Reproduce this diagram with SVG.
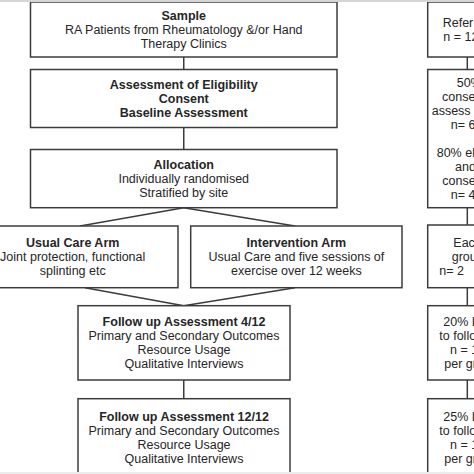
<svg xmlns="http://www.w3.org/2000/svg" width="474" height="474" viewBox="0 0 474 474">
<style>
rect.box{fill:#fff;stroke:#3c3c3c;stroke-width:1.5}
.c line{stroke:#3c3c3c;stroke-width:1.5}
text{font-family:"Liberation Sans",Arial,sans-serif;font-size:12.5px;fill:#262626}
.m{text-anchor:middle}
.b{font-weight:bold}
</style>
<rect width="474" height="474" fill="#fff"/>
<g class="c" id="connectors">
<line x1="183.75" y1="57" x2="183.75" y2="69.5"/>
<line x1="183.75" y1="127.5" x2="183.75" y2="149.5"/>
<line x1="183.75" y1="207.7" x2="80" y2="226"/>
<line x1="183.75" y1="207.7" x2="295" y2="226"/>
<line x1="85" y1="287.7" x2="183.75" y2="305.7"/>
<line x1="295" y1="287.7" x2="183.75" y2="305.7"/>
<line x1="183.75" y1="380" x2="183.75" y2="398.7"/>
<line x1="467.3" y1="57" x2="467.3" y2="69.5"/>
<line x1="467.3" y1="207.7" x2="467.3" y2="225"/>
<line x1="467.3" y1="287.7" x2="467.3" y2="305.7"/>
<line x1="467.3" y1="380" x2="467.3" y2="398.7"/>
</g>
<g id="sample">
<rect class="box" x="30.5" y="2" width="306.5" height="55"/>
<text class="m b" x="183.75" y="20">Sample</text>
<text class="m" x="183.75" y="34">RA Patients from Rheumatology &amp;/or Hand</text>
<text class="m" x="183.75" y="48">Therapy Clinics</text>
</g>
<g id="eligibility">
<rect class="box" x="30.5" y="69.5" width="306.5" height="58"/>
<text class="m b" x="183.75" y="89">Assessment of Eligibility</text>
<text class="m b" x="183.75" y="103">Consent</text>
<text class="m b" x="183.75" y="117">Baseline Assessment</text>
</g>
<g id="allocation">
<rect class="box" x="30.5" y="149.5" width="306.5" height="58.2"/>
<text class="m b" x="183.75" y="169.1">Allocation</text>
<text class="m" x="183.75" y="183.1">Individually randomised</text>
<text class="m" x="183.75" y="197.1">Stratified by site</text>
</g>
<g id="usual">
<rect class="box" x="-33" y="226" width="211" height="61.7"/>
<text class="m b" x="72.7" y="247.3">Usual Care Arm</text>
<text class="m" x="72.7" y="261.3">Joint protection, functional</text>
<text class="m" x="72.7" y="275.3">splinting etc</text>
</g>
<g id="intervention">
<rect class="box" x="190.7" y="226" width="211.3" height="61.7"/>
<text class="m b" x="296.4" y="247.3">Intervention Arm</text>
<text class="m" x="296.4" y="261.3">Usual Care and five sessions of</text>
<text class="m" x="296.4" y="275.3">exercise over 12 weeks</text>
</g>
<g id="followup4">
<rect class="box" x="78" y="305.7" width="212" height="74.3"/>
<text class="m b" x="184" y="326.3">Follow up Assessment 4/12</text>
<text class="m" x="184" y="340.3">Primary and Secondary Outcomes</text>
<text class="m" x="184" y="354.3">Resource Usage</text>
<text class="m" x="184" y="368.3">Qualitative Interviews</text>
</g>
<g id="followup12">
<rect class="box" x="78" y="398.7" width="212" height="90"/>
<text class="m b" x="184" y="420.5">Follow up Assessment 12/12</text>
<text class="m" x="184" y="434.5">Primary and Secondary Outcomes</text>
<text class="m" x="184" y="448.5">Resource Usage</text>
<text class="m" x="184" y="462.5">Qualitative Interviews</text>
</g>
<g id="referrals">
<rect class="box" x="427.7" y="2" width="80" height="55"/>
<text x="442.7" y="27">Refer</text>
<text x="443.3" y="41">n = 12</text>
</g>
<g id="eligible">
<rect class="box" x="427.7" y="69.5" width="80" height="138.2"/>
<text x="456.7" y="87.1">50%</text>
<text x="442" y="101.1">consen</text>
<text x="431.7" y="115.1">assess</text>
<text x="450.7" y="129.1">n= 6</text>
<text x="436.7" y="157.1">80% eli</text>
<text x="455" y="171.1">and</text>
<text x="442.3" y="185.1">consen</text>
<text x="450.7" y="199.1">n= 4</text>
</g>
<g id="each-group">
<rect class="box" x="427.7" y="225" width="80" height="62.7"/>
<text x="453.3" y="247.3">Eac</text>
<text x="451.7" y="261.3">grou</text>
<text x="439.3" y="275.3">n= 2</text>
</g>
<g id="loss20">
<rect class="box" x="427.7" y="305.7" width="80" height="74.3"/>
<text x="443.3" y="326.3">20% L</text>
<text x="439.3" y="340.3">to follo</text>
<text x="450" y="354.3">n = 1</text>
<text x="444.3" y="368.3">per gr</text>
</g>
<g id="loss25">
<rect class="box" x="427.7" y="398.7" width="80" height="90"/>
<text x="443.3" y="420.5">25% L</text>
<text x="439.3" y="434.5">to follo</text>
<text x="450" y="448.5">n = 1</text>
<text x="444.3" y="462.5">per gr</text>
</g>
<rect x="0" y="0" width="474" height="2" fill="#d6d6d6"/>
<rect x="0" y="472" width="474" height="2" fill="#ececec"/>
</svg>
